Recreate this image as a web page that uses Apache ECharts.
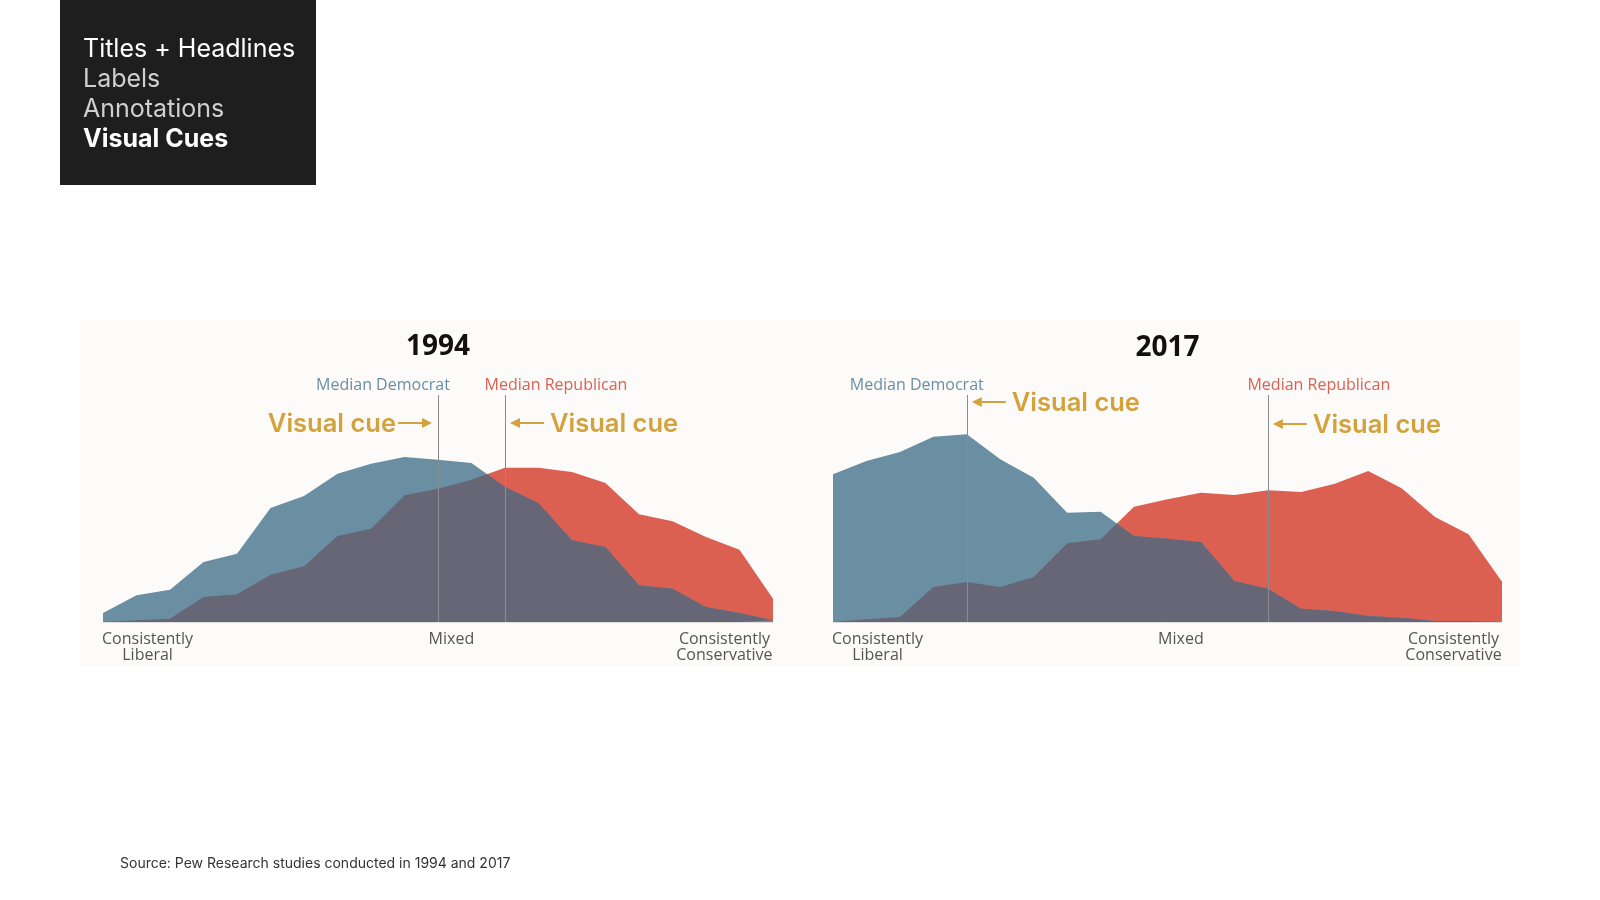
<!DOCTYPE html>
<html>
<head>
<meta charset="utf-8">
<title>Visual Cues</title>
<script src="https://cdn.jsdelivr.net/npm/echarts@6/dist/echarts.min.js"></script>
<style>
  html, body { margin: 0; padding: 0; background: #ffffff; }
  #main { width: 1600px; height: 900px; }
</style>
</head>
<body>
<div id="main"></div>
<script>
// 0 = consistently liberal ... 20 = consistently conservative
var steps = [0, 1, 2, 3, 4, 5, 6, 7, 8, 9, 10, 11, 12, 13, 14, 15, 16, 17, 18, 19, 20];
var years = ['1994', '2017'];
var dem1994 = [2.7, 8.0, 9.7, 18.0, 20.5, 34.2, 37.8, 44.5, 47.5, 49.5, 48.7, 47.7, 40.5, 35.7, 24.5, 22.5, 11.0, 10.0, 4.5, 2.7, 0.5];
var rep1994 = [0, 0.5, 1.0, 7.5, 8.3, 14.2, 16.7, 25.8, 28.0, 38.0, 40.0, 42.7, 46.3, 46.3, 45.0, 41.7, 32.3, 30.2, 25.5, 21.7, 7.0];
var dem2017 = [44.3, 48.3, 51.0, 55.6, 56.3, 48.8, 43.3, 32.8, 33.1, 25.8, 25.0, 24.0, 12.3, 10.0, 4.0, 3.3, 1.8, 1.3, 0.3, 0.3, 0];
var rep2017 = [0, 0.8, 1.5, 10.5, 12.0, 10.5, 13.5, 23.6, 24.8, 34.6, 36.8, 38.8, 38.1, 39.5, 39.0, 41.5, 45.3, 40.1, 31.5, 26.3, 12.1];
var medians1994 = [10, 12]; // democrat, republican
var medians2017 = [4, 13];
var tickLabels = ['Consistently\nLiberal', 'Mixed', 'Consistently\nConservative'];
var medianNames = ['Median Democrat', 'Median Republican'];
var cueText = 'Visual cue';
var menuItems = ['Titles + Headlines', 'Labels', 'Annotations', 'Visual Cues'];
var sourceText = 'Source: Pew Research studies conducted in 1994 and 2017';

var BLUE = '#6a8fa3', RED = '#dc6052', OVERLAP = '#666677', GOLD = '#d4a23c';

function pairs(ys) {
	return steps.map(function(x, i) { return [x, ys[i]]; });
}

// the dark overlap = lower of the two curves, with crossing points added
function overlap(a, b) {
	var out = [];
	for (var i = 0; i < steps.length; i++) {
		out.push([steps[i], Math.min(a[i], b[i])]);
		if (i < steps.length - 1) {
			var d0 = a[i] - b[i], d1 = a[i + 1] - b[i + 1];
			if (d0 * d1 < 0) {
				var t = d0 / (d0 - d1);
				out.push([steps[i] + t, a[i] + (a[i + 1] - a[i]) * t]);
			}
		}
	}
	return out;
}

function area(name, data, color, idx, z) {
	return {
		name: name, type: 'line', xAxisIndex: idx, yAxisIndex: idx,
		data: data, symbol: 'none', z: z, silent: true,
		lineStyle: { width: 0 },
		areaStyle: { color: color, opacity: 1 }
	};
}

function medianLines(meds) {
	return {
		silent: true, symbol: 'none',
		label: { show: false },
		lineStyle: { color: '#8c8c8c', width: 1, type: 'solid' },
		data: meds.map(function(m) { return { xAxis: m }; })
	};
}

var xAxisBase = {
	type: 'value', min: 0, max: 20,
	axisLine: { lineStyle: { color: '#dddddd', width: 1 } },
	axisTick: { show: false },
	splitLine: { show: false },
	axisLabel: {
		customValues: [1.33, 10.4, 18.55],
		formatter: function(v) {
			if (v < 5) return tickLabels[0];
			if (v < 15) return tickLabels[1];
			return tickLabels[2];
		},
		color: '#555555', fontFamily: 'Open Sans', fontSize: 16,
		lineHeight: 16.5, margin: 9
	}
};
var yAxisBase = { type: 'value', min: 0, max: 68.1, show: false };

var chart = echarts.init(document.getElementById('main'));
var ov1994 = area('both1994', overlap(dem1994, rep1994), OVERLAP, 0, 4);
ov1994.markLine = medianLines(medians1994);
var ov2017 = area('both2017', overlap(dem2017, rep2017), OVERLAP, 1, 4);
ov2017.markLine = medianLines(medians2017);

chart.setOption({
	animation: false,
	backgroundColor: '#ffffff',
	grid: [
		{ left: 103, width: 670, top: 395, height: 227 },
		{ left: 833, width: 669, top: 395, height: 227 }
	],
	xAxis: [
		Object.assign({ gridIndex: 0 }, xAxisBase),
		Object.assign({ gridIndex: 1 }, xAxisBase)
	],
	yAxis: [
		Object.assign({ gridIndex: 0 }, yAxisBase),
		Object.assign({ gridIndex: 1 }, yAxisBase)
	],
	series: [
		area('rep1994', pairs(rep1994), RED, 0, 2),
		area('dem1994', pairs(dem1994), BLUE, 0, 3),
		ov1994,
		area('rep2017', pairs(rep2017), RED, 1, 2),
		area('dem2017', pairs(dem2017), BLUE, 1, 3),
		ov2017
	]
});

// annotations anchored to the median positions
function px(grid, x) {
	return chart.convertToPixel({ gridIndex: grid }, [x, 0])[0];
}

function cue(lineX, y, side) {
	// side -1: text on left, arrow pointing right; +1: arrow pointing left, text on right
	var tip = lineX + (side < 0 ? -6 : 5);
	var tail = lineX + (side < 0 ? -40 : 39);
	var head = side < 0 ? -10 : 10;
	return [
		{
			type: 'line', silent: true,
			shape: { x1: tail, y1: y, x2: tip + head, y2: y },
			style: { stroke: GOLD, lineWidth: 2 }
		},
		{
			type: 'polygon', silent: true,
			shape: { points: [[tip, y], [tip + head, y - 5], [tip + head, y + 5]] },
			style: { fill: GOLD }
		},
		{
			type: 'text', silent: true,
			x: side < 0 ? tail - 2 : tail + 6, y: y + 1,
			style: {
				text: cueText, fill: GOLD,
				font: '600 25.5px Inter',
				textAlign: side < 0 ? 'right' : 'left', textVerticalAlign: 'middle'
			}
		}
	];
}

function medianLabel(lineX, dx, color, text) {
	return {
		type: 'text', silent: true, x: lineX + dx, y: 385,
		style: {
			text: text, fill: color, font: '16px "Open Sans"',
			textAlign: 'center', textVerticalAlign: 'middle'
		}
	};
}

var d94 = px(0, medians1994[0]), r94 = px(0, medians1994[1]);
var d17 = px(1, medians2017[0]), r17 = px(1, medians2017[1]);

var graphics = [
	{ type: 'rect', silent: true, z: -10, shape: { x: 80, y: 319, width: 1440, height: 347 }, style: { fill: '#fcfbf9' } },
	{ type: 'rect', silent: true, shape: { x: 60, y: 0, width: 256, height: 185 }, style: { fill: '#1e1e1e' } },
	{ type: 'text', silent: true, x: px(0, 10), y: 347, style: { text: years[0], font: 'bold 28px "Open Sans"', fill: '#111111', textAlign: 'center', textVerticalAlign: 'middle' } },
	{ type: 'text', silent: true, x: px(1, 10), y: 348, style: { text: years[1], font: 'bold 28px "Open Sans"', fill: '#111111', textAlign: 'center', textVerticalAlign: 'middle' } },
	medianLabel(d94, -55, BLUE, medianNames[0]),
	medianLabel(r94, 51, RED, medianNames[1]),
	medianLabel(d17, -50, BLUE, medianNames[0]),
	medianLabel(r17, 51, RED, medianNames[1]),
	{ type: 'text', silent: true, x: 120, y: 864, style: { text: sourceText, font: '14px Inter', fill: '#333333', textVerticalAlign: 'middle' } }
];

var menuColors = ['#ffffff', '#cfcfcf', '#cfcfcf', '#ffffff'];
var menuWeights = ['400', '400', '400', '700'];
menuItems.forEach(function(t, i) {
	graphics.push({
		type: 'text', silent: true, x: 83, y: 49 + i * 30,
		style: { text: t, font: menuWeights[i] + ' 25px Inter', fill: menuColors[i], textVerticalAlign: 'middle' }
	});
});

graphics = graphics.concat(cue(d94, 423, -1), cue(r94, 423, 1), cue(d17, 402, 1), cue(r17, 424, 1));

chart.setOption({ graphic: graphics });
</script>
</body>
</html>
